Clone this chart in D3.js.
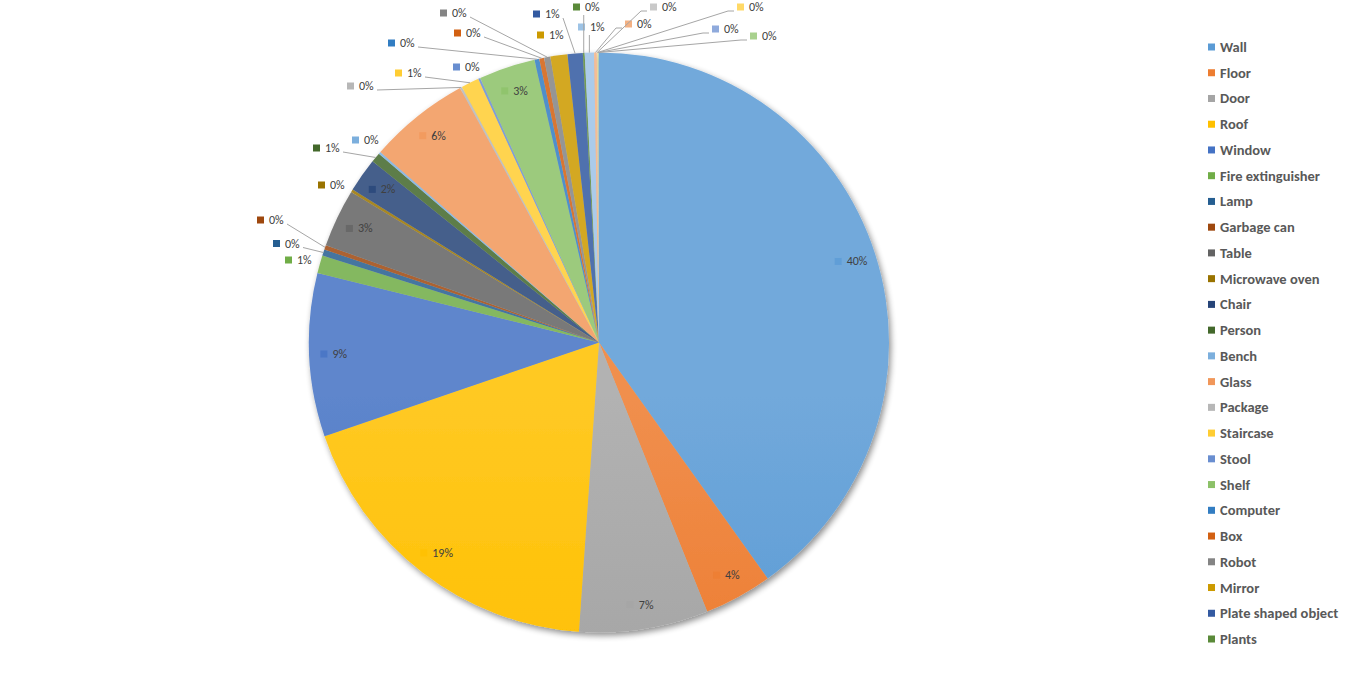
<!DOCTYPE html>
<html>
<head>
<meta charset="utf-8">
<script src="https://cdn.jsdelivr.net/npm/d3@7"></script>
<style>
  html, body { margin: 0; padding: 0; background: #ffffff; }
  svg { display: block; }
</style>
</head>
<body>
<svg id="chart" width="1348" height="686"></svg>
<script>
// ---- data ----
const categories = ["Wall","Floor","Door","Roof","Window","Fire extinguisher","Lamp","Garbage can",
  "Table","Microwave oven","Chair","Person","Bench","Glass","Package","Staircase","Stool","Shelf",
  "Computer","Box","Robot","Mirror","Plate shaped object","Plants"];
// 30 slices in the pie (only the first 24 appear in the legend)
const values = [40.2, 3.8, 7.2, 18.7, 9.1, 1.0, 0.35, 0.25, 3.25, 0.15, 1.9, 0.55, 0.12, 5.65, 0.12,
  1.0, 0.12, 3.15, 0.27, 0.27, 0.35, 0.95, 0.85, 0.1, 0.52, 0.15, 0.03, 0.03, 0.03, 0.03];
const colors = ["#5B9BD5","#ED7D31","#A5A5A5","#FFC000","#4472C4","#70AD47",
  "#255E91","#9E480E","#636363","#997300","#264478","#43682B",
  "#7CAFDD","#F1975A","#B7B7B7","#FFCD33","#698ED0","#8CC168",
  "#327DC2","#D26012","#848484","#CC9A00","#335AA1","#5A8A39",
  "#9DC3E6","#F4B183","#C9C9C9","#FFD966","#8FAADC","#A9D18E"];

// ---- layout ----
const W = 1348, H = 686;
const cx = 599, cy = 342.5, R = 290;
const insideSet = new Set([0,1,2,3,4,8,10,13,17]);
// outside label placement (left of key square, vertical centre), relative to pie centre
const outsidePos = {
  5:[-314,-82.5], 6:[-326,-99], 7:[-342,-122.5], 9:[-281,-157.5], 11:[-286,-194.5], 12:[-247,-202.5],
  14:[-252,-256.5], 15:[-204,-269.5], 16:[-146,-275.5], 18:[-211,-299.5], 19:[-145,-309.5],
  20:[-159,-329.5], 21:[-62,-307.5], 22:[-66,-328.5], 23:[-26,-335.5], 24:[-21,-315.5],
  25:[26,-318.5], 26:[51,-335.5], 27:[138,-335.5], 28:[113,-313.5], 29:[151,-306.5]
};

const svg = d3.select("#chart");
const defs = svg.append("defs");

const shadow = defs.append("filter").attr("id","shadow")
  .attr("x","-10%").attr("y","-10%").attr("width","120%").attr("height","120%");
shadow.append("feGaussianBlur").attr("in","SourceAlpha").attr("stdDeviation",3).attr("result","b");
shadow.append("feOffset").attr("in","b").attr("dx",2).attr("dy",3).attr("result","o");
shadow.append("feComponentTransfer").attr("in","o").attr("result","s")
  .append("feFuncA").attr("type","linear").attr("slope",0.45);
const mg = shadow.append("feMerge");
mg.append("feMergeNode").attr("in","s");
mg.append("feMergeNode").attr("in","SourceGraphic");

colors.forEach((c, i) => {
  const g = defs.append("linearGradient").attr("id","grad"+i)
    .attr("gradientUnits","userSpaceOnUse")
    .attr("x1",cx).attr("x2",cx).attr("y1",cy-R).attr("y2",cy+R);
  g.append("stop").attr("offset","0%").attr("stop-color", d3.interpolateRgb(c,"#ffffff")(0.14));
  g.append("stop").attr("offset","50%").attr("stop-color", c);
  g.append("stop").attr("offset","100%").attr("stop-color", d3.interpolateRgb(c,"#000000")(0.12));
});

const pie = d3.pie().sort(null).value(d => d);
const arcs = pie(values);
const total = d3.sum(values);
const arc = d3.arc().innerRadius(0).outerRadius(R);
const labelArc = d3.arc().innerRadius(R*0.915).outerRadius(R*0.915);

const pieG = svg.append("g").attr("transform",`translate(${cx},${cy})`);
pieG.append("g").attr("filter","url(#shadow)")
  .selectAll("path").data(arcs).join("path")
  .attr("d", arc)
  .attr("fill", (d,i) => `url(#grad${i})`);

const fontFam = "Carlito, Lato, 'Open Sans', 'Liberation Sans', sans-serif";
const pct = d => Math.round(d.value / total * 100) + "%";
const lblG = svg.append("g").attr("font-family", fontFam).attr("font-size", 12).attr("fill","#404040");

arcs.forEach((d, i) => {
  let x0, yc;
  const txt = pct(d);
  const tw = txt.length === 3 ? 22 : 15;
  const gw = 12 + tw;
  if (insideSet.has(i)) {
    const c = labelArc.centroid(d);
    x0 = cx + c[0] - gw/2; yc = cy + c[1];
  } else {
    const o = outsidePos[i];
    x0 = cx + o[0]; yc = cy + o[1];
    // leader line
    const a = (d.startAngle + d.endAngle)/2;
    const px = cx + R*Math.sin(a), py = cy - R*Math.cos(a);
    const x1 = x0 + gw, y0 = yc - 7, y1 = yc + 7;
    const dx = px < x0 ? x0 - px : (px > x1 ? px - x1 : 0);
    const dy = py < y0 ? y0 - py : (py > y1 ? py - y1 : 0);
    if (Math.hypot(dx, dy) > 14) {
      let pts;
      const ly = yc + 4;
      if (px < x0 - 4) pts = [[px,py],[x0-9,ly],[x0-3,ly]];
      else if (px > x1 + 4) pts = [[px,py],[x1+3,ly]];
      else pts = [[px,py],[px, y1+1]];
      svg.append("path").attr("d", d3.line()(pts))
        .attr("fill","none").attr("stroke","#a6a6a6").attr("stroke-width",1);
    }
  }
  lblG.append("rect").attr("x", x0).attr("y", yc-3.5).attr("width",7).attr("height",7)
    .attr("fill", colors[i]).attr("opacity", insideSet.has(i) ? 0.75 : 1);
  lblG.append("text").attr("x", x0 + 12).attr("y", yc + 4).text(txt);
});

// legend
const legY = d3.scalePoint().domain(categories).range([47, 639]);
const leg = svg.append("g").attr("font-family", fontFam).attr("font-size", 14.5)
  .attr("font-weight","bold").attr("fill","#595959");
categories.forEach((c, i) => {
  leg.append("rect").attr("x",1208).attr("y", legY(c)-3.5).attr("width",7).attr("height",7)
    .attr("fill", colors[i]);
  leg.append("text").attr("x",1220).attr("y", legY(c)+5).text(c);
});
</script>
</body>
</html>
